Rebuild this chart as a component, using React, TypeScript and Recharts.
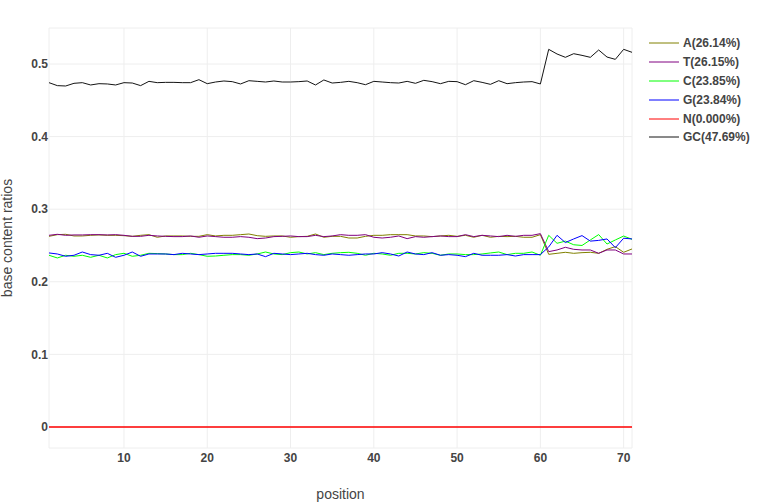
import { LineChart, Line, XAxis, YAxis, CartesianGrid, Legend, Label } from "recharts";

// position along the read (1..71)
const positions = Array.from({ length: 71 }, (_, i) => i + 1);

const seriesA = [
  0.2626, 0.2649, 0.2654, 0.2631, 0.2631, 0.264, 0.2645, 0.264, 0.264, 0.2635,
  0.2626, 0.264, 0.2649, 0.2613, 0.2631, 0.2631, 0.2631, 0.2626, 0.2626, 0.2649,
  0.2631, 0.264, 0.264, 0.2649, 0.2658, 0.2635, 0.2626, 0.2631, 0.2631, 0.2613,
  0.2622, 0.2626, 0.2658, 0.2613, 0.2626, 0.2626, 0.2603, 0.2603, 0.2626, 0.264,
  0.264, 0.2649, 0.2649, 0.2649, 0.2631, 0.2631, 0.2622, 0.2631, 0.264, 0.2626,
  0.264, 0.2613, 0.264, 0.2613, 0.2626, 0.2622, 0.2626, 0.2613, 0.2613, 0.2649,
  0.2378, 0.2392, 0.2406, 0.2392, 0.2401, 0.2406, 0.2392, 0.2447, 0.2484, 0.2406,
  0.2452,
];

const seriesT = [
  0.264, 0.2654, 0.264, 0.2645, 0.2645, 0.2649, 0.2649, 0.2645, 0.2649, 0.264,
  0.2626, 0.2626, 0.264, 0.2631, 0.2626, 0.2622, 0.2622, 0.2631, 0.2613, 0.2631,
  0.2622, 0.2613, 0.2613, 0.2622, 0.2613, 0.2594, 0.2603, 0.2622, 0.2626, 0.2631,
  0.2622, 0.2622, 0.264, 0.2622, 0.2631, 0.2649, 0.264, 0.264, 0.2649, 0.2613,
  0.2603, 0.2613, 0.2631, 0.2594, 0.2622, 0.2613, 0.2622, 0.2631, 0.2622, 0.2622,
  0.2649, 0.2622, 0.264, 0.2631, 0.2622, 0.264, 0.2626, 0.264, 0.264, 0.2663,
  0.2415, 0.2438, 0.2475, 0.2447, 0.2438, 0.2438, 0.2392, 0.2438, 0.2438, 0.2383,
  0.2383,
];

const seriesC = [
  0.2365, 0.2328, 0.2365, 0.2351, 0.2365, 0.2337, 0.2365, 0.2328, 0.2374, 0.2392,
  0.2351, 0.2365, 0.2392, 0.2388, 0.2383, 0.2374, 0.2374, 0.2392, 0.2374, 0.2351,
  0.2355, 0.2365, 0.2374, 0.2374, 0.2365, 0.2383, 0.241, 0.2383, 0.2374, 0.2401,
  0.241, 0.2383, 0.2401, 0.2374, 0.2392, 0.2401, 0.2406, 0.2392, 0.2365, 0.2392,
  0.2383, 0.2365, 0.2392, 0.2392, 0.2383, 0.2401, 0.2392, 0.2365, 0.2383, 0.2383,
  0.2374, 0.2374, 0.2383, 0.2397, 0.241, 0.2374, 0.2392, 0.2392, 0.241, 0.2365,
  0.264, 0.253, 0.256, 0.251, 0.25, 0.2576, 0.265, 0.252, 0.2576, 0.263,
  0.2585,
];

const seriesG = [
  0.2397, 0.2383, 0.2351, 0.2365, 0.241, 0.2374, 0.2365, 0.2392, 0.2337, 0.2365,
  0.241, 0.2351, 0.2383, 0.2383, 0.2383, 0.2374, 0.2392, 0.2383, 0.2374, 0.2383,
  0.2392, 0.2392, 0.2392, 0.2383, 0.2374, 0.2383, 0.2346, 0.2392, 0.2383, 0.2374,
  0.2383, 0.2392, 0.2374, 0.2365, 0.2383, 0.2374, 0.2365, 0.2374, 0.2383, 0.2383,
  0.2401, 0.2383, 0.2355, 0.241, 0.2383, 0.2374, 0.2401, 0.2365, 0.2374, 0.2365,
  0.2346, 0.2392, 0.2365, 0.2365, 0.2365, 0.2374, 0.2355, 0.2374, 0.2374, 0.2374,
  0.248, 0.264, 0.254, 0.259, 0.2636, 0.256, 0.257, 0.259, 0.247, 0.26,
  0.259,
];

const seriesN = positions.map(() => 0);

const seriesGC = [
  0.4743, 0.4702, 0.4697, 0.4734, 0.4743, 0.4711, 0.4729, 0.4725, 0.4711, 0.4743,
  0.4738, 0.4702, 0.4761, 0.4743, 0.4747, 0.4747, 0.4743, 0.4743, 0.4784, 0.4729,
  0.4752, 0.4766, 0.4757, 0.4725, 0.477, 0.4761, 0.4752, 0.4766, 0.4752, 0.4752,
  0.4757, 0.4766, 0.4711, 0.478, 0.4738, 0.4747, 0.4761, 0.4743, 0.4715, 0.4761,
  0.4752, 0.4743, 0.4738, 0.4761, 0.4734, 0.4775, 0.4757, 0.4729, 0.4761, 0.4757,
  0.4715, 0.477, 0.4747, 0.472, 0.477, 0.4729, 0.4743, 0.4752, 0.4757, 0.4725,
  0.5202, 0.5138, 0.5092, 0.5142, 0.5119, 0.5092, 0.5193, 0.5096, 0.5064, 0.5202,
  0.5161,
];

const xTicks = [10, 20, 30, 40, 50, 60, 70];
const yTicks = [0, 0.1, 0.2, 0.3, 0.4, 0.5];

const series = [
  { key: "A", name: "A(26.14%)", color: "#808000" },
  { key: "T", name: "T(26.15%)", color: "#800080" },
  { key: "C", name: "C(23.85%)", color: "#00ff00" },
  { key: "G", name: "G(23.84%)", color: "#0000ff" },
  { key: "N", name: "N(0.000%)", color: "#ff0000" },
  { key: "GC", name: "GC(47.69%)", color: "#141414" },
];

const data = positions.map((pos, i) => ({
  pos,
  A: seriesA[i],
  T: seriesT[i],
  C: seriesC[i],
  G: seriesG[i],
  N: seriesN[i],
  GC: seriesGC[i],
}));

const FONT = "Arial, 'Liberation Sans', sans-serif";
const tickStyle = { fill: "#444", fontSize: 12, fontWeight: "bold" as const, fontFamily: FONT };

// keep legend in the same order as the series (recharts sorts by name otherwise)
const LegendBox = ({ payload }: any) => {
  const items = [...(payload || [])].sort(
    (a: any, b: any) =>
      series.findIndex((s) => s.name === a.value) - series.findIndex((s) => s.name === b.value)
  );
  return (
    <div style={{ fontFamily: FONT, fontSize: 12, fontWeight: "bold", color: "#444" }}>
      {items.map((p: any) => (
        <div key={p.value} style={{ display: "flex", alignItems: "center", height: 18.8 }}>
          <svg width={35} height={10} style={{ display: "block" }}>
            <line x1={1} y1={5} x2={31} y2={5} stroke={p.color} strokeWidth={1} />
          </svg>
          <span>{p.value}</span>
        </div>
      ))}
    </div>
  );
};

export default function App() {
  return (
    <div style={{ position: "absolute", left: 0, top: 0 }}>
      <LineChart
        width={760}
        height={502}
        data={data}
        margin={{ top: 28, right: 128, left: 0, bottom: 0 }}
      >
        <CartesianGrid stroke="#eee" />
        <XAxis
          dataKey="pos"
          type="number"
          domain={[1, 71]}
          ticks={xTicks}
          axisLine={false}
          tickLine={false}
          tickSize={0}
          tickMargin={5}
          tick={tickStyle}
          height={54}
        >
          <Label
            content={() => (
              <text x={340.5} y={499} textAnchor="middle" fill="#444" fontSize={14} fontFamily={FONT}>
                position
              </text>
            )}
          />
        </XAxis>
        <YAxis
          type="number"
          domain={[-0.029, 0.5496]}
          ticks={yTicks}
          tickFormatter={(v: number) => String(v)}
          axisLine={false}
          tickLine={false}
          tickSize={0}
          tickMargin={1}
          tick={tickStyle}
          width={49}
        >
          <Label
            content={() => (
              <text
                x={12}
                y={238}
                transform="rotate(-90 12 238)"
                textAnchor="middle"
                fill="#444"
                fontSize={14}
                fontFamily={FONT}
              >
                base content ratios
              </text>
            )}
          />
        </YAxis>
        <Legend
          layout="vertical"
          align="center"
          verticalAlign="middle"
          content={<LegendBox />}
          wrapperStyle={{ position: "absolute", left: 648, top: 34, width: 112 }}
        />
        {series.map((s) => (
          <Line
            key={s.key}
            type="linear"
            dataKey={s.key}
            name={s.name}
            stroke={s.color}
            strokeWidth={s.key === "N" ? 1.5 : 1}
            dot={false}
            activeDot={false}
            isAnimationActive={false}
          />
        ))}
      </LineChart>
    </div>
  );
}
